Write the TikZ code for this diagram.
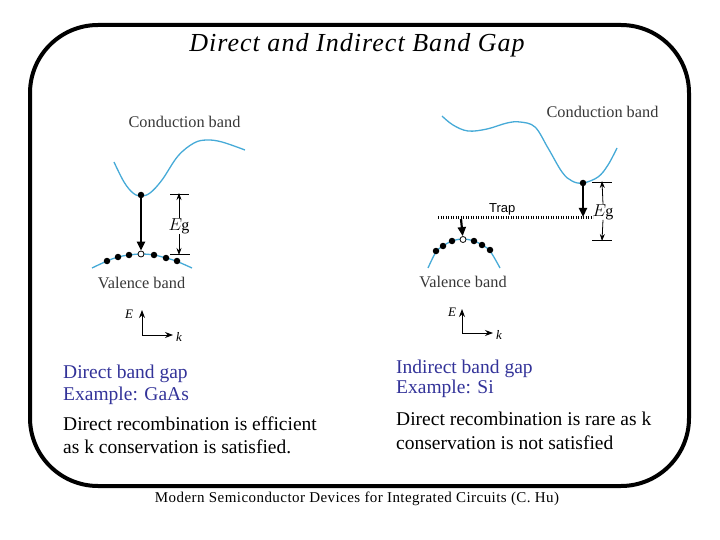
\documentclass[tikz,border=0pt]{standalone}
\usepackage{fontspec}
\setmainfont{Liberation Serif}
\newfontfamily\sansf{Liberation Sans}
\newfontfamily\titlef[LetterSpace=4]{Liberation Serif}
\newfontfamily\footf[LetterSpace=3]{Liberation Serif}
\usetikzlibrary{arrows.meta}
\definecolor{bandblue}{RGB}{70,170,215}
\definecolor{txtblue}{RGB}{51,51,153}
\definecolor{lblgray}{RGB}{55,55,55}
\tikzset{
 band/.style={bandblue, line width=1.3pt},
 edot/.style={circle, fill=black, inner sep=0pt, minimum size=6.5pt},
 hdot/.style={circle, draw=black, fill=white, line width=0.8pt, inner sep=0pt, minimum size=6pt},
 trans/.style={line width=2.2pt, -{Triangle[length=9pt,width=8pt]}},
 egarrow/.style={line width=0.8pt, -{Stealth[length=7pt,width=5pt]}},
 bar/.style={line width=1pt},
 axis/.style={line width=1pt, -{Stealth[length=8pt,width=6pt]}},
 lbl/.style={font=\fontsize{16.3}{18}\selectfont, text=lblgray, inner sep=0pt, anchor=base},
 body/.style={font=\fontsize{19.5}{22}\selectfont, inner sep=0pt, anchor=base west},
 trapline/.style={line width=3pt, dash pattern=on 1.3pt off 1.2pt},
 ital/.style={font=\fontsize{16}{18}\selectfont\itshape, inner sep=0pt},
 axl/.style={font=\fontsize{13}{15}\selectfont\itshape, inner sep=0pt},
}
\begin{document}
\begin{tikzpicture}[x=1pt,y=-1pt]
\useasboundingbox (0,0) rectangle (720,540);
% frame
\draw[line width=4pt, rounded corners=68pt] (30,25) rectangle (689,486);
% title
\node[font=\fontsize{26}{28}\selectfont\titlef\itshape, inner sep=0pt, anchor=base] (title) at (357,52) {Direct and Indirect Band Gap};

% ===== left panel =====
\node[lbl] (cbL) at (184.5,128) {Conduction band};
\draw[band] plot[smooth, tension=0.6] coordinates {(114,162) (124,182) (133,193) (141,196) (150,193) (162,180) (178,156) (194,143) (207,140) (222,142) (245,150)};
\draw[band] plot[smooth, tension=0.6] coordinates {(92,268) (107,261) (118,257) (129,255) (141,254) (154,255) (166,258) (176,261) (192,268)};
\node[edot] (e1) at (141,195) {};
\node[edot] (vL1) at (107,261) {};
\node[edot] (vL2) at (118,257) {};
\node[edot] (vL3) at (129,255) {};
\node[edot] (vL4) at (154,255) {};
\node[edot] (vL5) at (166,258) {};
\node[edot] (vL6) at (177,261) {};
\node[hdot] (h1) at (141,254) {};
\draw[trans] (e1) -- (h1);
\node[lbl] (vbL) at (141.5,288) {Valence band};
% Eg left
\coordinate (egLt) at (179,195);
\coordinate (egLb) at (179,254);
\draw[bar] (170,195) -- (189,195);
\draw[bar] (170,254) -- (190,254);
\node[ital] (egL) at (179,226) {$E$\kern-1pt\upshape g};
\draw[egarrow] (egL.north) -- ([yshift=2pt]egLt);
\draw[egarrow] (egL.south) -- ([yshift=-1pt]egLb);
% axes left
\coordinate (axL) at (142,335);
\coordinate (axLy) at (142,310);
\coordinate (axLx) at (173,335);
\draw[axis] (axL) -- (axLy);
\draw[axis] (axL) -- (axLx);
\node[axl] (EL) at (129,314) {E};
\node[axl] (kL) at (179,337) {k};

% ===== right panel =====
\node[lbl] (cbR) at (602.5,118) {Conduction band};
\draw[band] plot[smooth, tension=0.6] coordinates {(442,116) (453,125) (468,131) (487,129) (507,123) (520,122) (535,127) (548,148) (562,172) (572,181) (583,183) (598,177) (608,165) (617,148)};
\draw[band] plot[smooth, tension=0.6] coordinates {(428,268) (436,252) (443,246) (452,241) (463,239) (474,241) (482,245) (490,251) (500,268)};
\node[edot] (e2) at (583,183) {};
\node[edot] (vR1) at (436,251) {};
\node[edot] (vR2) at (443,246) {};
\node[edot] (vR3) at (452,241) {};
\node[edot] (vR4) at (474,241) {};
\node[edot] (vR5) at (482,245) {};
\node[edot] (vR6) at (490,250) {};
\node[hdot] (h2) at (463,239.5) {};
% trap
\coordinate (trapA) at (438,218);
\coordinate (trapB) at (593,218);
\draw[trapline] (trapA) -- (trapB);
\node[font=\sansf\fontsize{13}{15}\selectfont, inner sep=0pt, anchor=base west] (trapT) at (489,213) {Trap};
\coordinate (t1) at (461,219);
\coordinate (t2) at (583,217);
\draw[trans] (t1) -- (h2);
\draw[trans] (e2) -- (t2);
\node[lbl] (vbR) at (463,287) {Valence band};
% Eg right
\coordinate (egRt) at (602,183);
\coordinate (egRb) at (602,240);
\draw[bar] (592,183) -- (612,183);
\draw[bar] (592,240) -- (612,240);
\node[ital] (egR) at (603,212) {$E$\kern-1pt\upshape g};
\draw[egarrow] (egR.north) -- ([yshift=2pt]egRt);
\draw[egarrow] (egR.south) -- ([yshift=-1pt]egRb);
% axes right
\coordinate (axR) at (462,333);
\coordinate (axRy) at (462,309);
\coordinate (axRx) at (493,333);
\draw[axis] (axR) -- (axRy);
\draw[axis] (axR) -- (axRx);
\node[axl] (ER) at (452,312) {E};
\node[axl] (kR) at (499,335) {k};

% ===== texts =====
\node[body, text=txtblue] (d1) at (63,378) {Direct band gap};
\node[body, text=txtblue] (d2) at (63,400) {Example: GaAs};
\node[body] (d3) at (63,430) {Direct recombination is efficient};
\node[body] (d4) at (63,453) {as k conservation is satisfied.};
\node[body, text=txtblue] (i1) at (396,373) {Indirect band gap};
\node[body, text=txtblue] (i2) at (396,393) {Example: Si};
\node[body] (i3) at (396,425) {Direct recombination is rare as k};
\node[body] (i4) at (396,449) {conservation is not satisfied};
\node[font=\fontsize{15}{17}\selectfont\footf, inner sep=0pt, anchor=base] (foot) at (357,502) {Modern Semiconductor Devices for Integrated Circuits (C. Hu)};
\end{tikzpicture}
\end{document}
